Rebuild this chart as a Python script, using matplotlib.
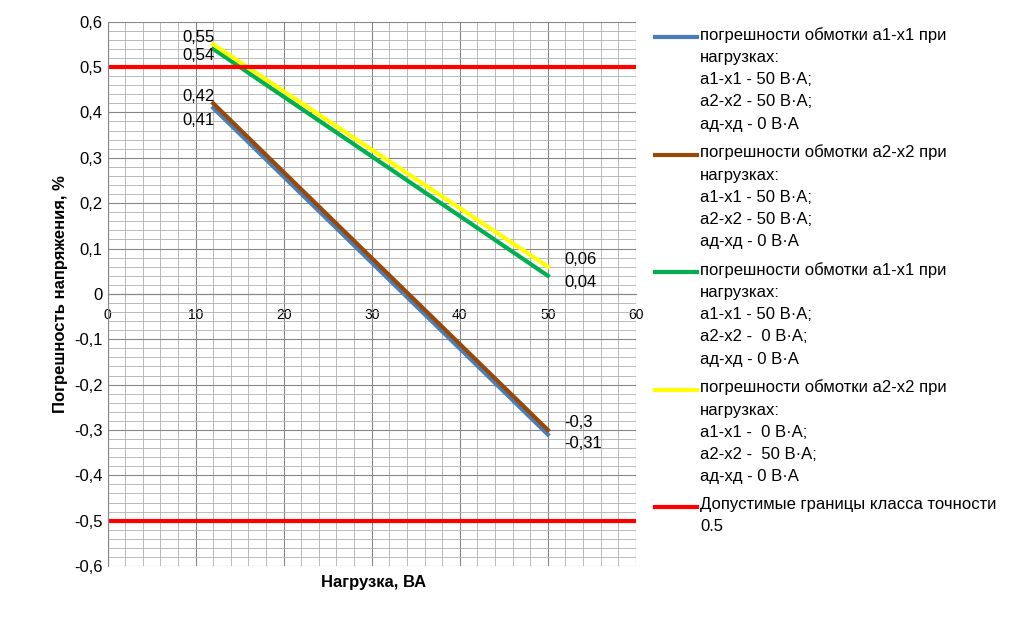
import matplotlib as mpl
mpl.use('Agg')
import matplotlib.pyplot as plt
from matplotlib.lines import Line2D
import numpy as np

# data
load = [12, 50]
err_a1_1 = [0.41, -0.31]
err_a2_1 = [0.42, -0.30]
err_a1_2 = [0.54, 0.04]
err_a2_2 = [0.55, 0.06]
limit = 0.5

labels = [
    'погрешности обмотки а1-х1 при\nнагрузках:\nа1-х1 - 50 В·А;\nа2-х2 - 50 В·А;\nад-хд - 0 В·А',
    'погрешности обмотки а2-х2 при\nнагрузках:\nа1-х1 - 50 В·А;\nа2-х2 - 50 В·А;\nад-хд - 0 В·А',
    'погрешности обмотки а1-х1 при\nнагрузках:\nа1-х1 - 50 В·А;\nа2-х2 -  0 В·А;\nад-хд - 0 В·А',
    'погрешности обмотки а2-х2 при\nнагрузках:\nа1-х1 -  0 В·А;\nа2-х2 -  50 В·А;\nад-хд - 0 В·А',
    'Допустимые границы класса точности\n0.5',
]
colors = ['#4a7ebb', '#984807', '#00b050', '#ffff00', '#ff0000']

plt.rcParams['font.family'] = ['Liberation Sans', 'DejaVu Sans']
fig = plt.figure(figsize=(10.24, 6.2), dpi=100)
ax = fig.add_axes([0.105, 0.087, 0.516, 0.878])

ax.set_xlim(0, 60)
ax.set_ylim(-0.6, 0.6)
yt = np.arange(-0.6, 0.61, 0.1)
ax.set_xticks(np.arange(0, 61, 10))
ax.set_yticks(yt)
ax.set_yticklabels(['0' if abs(v) < 1e-9 else ('%.1f' % v).replace('.', ',') for v in yt], fontsize=12)
ax.set_xticklabels([str(v) for v in range(0, 61, 10)], fontsize=12)
ax.set_xticks(np.arange(0, 61, 2), minor=True)
ax.set_yticks(np.arange(-0.6, 0.61, 0.02), minor=True)
ax.grid(which='major', color='#868686', lw=0.8)
ax.grid(which='minor', color='#b0b0b0', lw=0.6)
ax.tick_params(which='both', length=0)
ax.tick_params(axis='x', pad=10)
ax.spines['bottom'].set_position(('data', 0))
for s in ax.spines.values():
    s.set_color('#868686')
ax.spines['top'].set_visible(False)
ax.spines['right'].set_visible(False)

ax.plot(load, err_a1_1, color=colors[0], lw=3)
ax.plot(load, err_a2_1, color=colors[1], lw=3, zorder=3)
ax.plot(load, err_a1_2, color=colors[2], lw=3)
ax.plot(load, err_a2_2, color=colors[3], lw=3)
ax.axhline(limit, color=colors[4], lw=3)
ax.axhline(-limit, color=colors[4], lw=3)

def fmt(v):
    return ('%g' % v).replace('.', ',')

kw = dict(textcoords='offset points', fontsize=12)
ax.annotate(fmt(err_a2_2[0]), (load[0], err_a2_2[0]), xytext=(-22, 2), **kw)
ax.annotate(fmt(err_a1_2[0]), (load[0], err_a1_2[0]), xytext=(-22, -8), **kw)
ax.annotate(fmt(err_a2_1[0]), (load[0], err_a2_1[0]), xytext=(-22, 2), **kw)
ax.annotate(fmt(err_a1_1[0]), (load[0], err_a1_1[0]), xytext=(-22, -12), **kw)
ax.annotate(fmt(err_a2_2[1]), (load[1], err_a2_2[1]), xytext=(12, 2), **kw)
ax.annotate(fmt(err_a1_2[1]), (load[1], err_a1_2[1]), xytext=(12, -8), **kw)
ax.annotate(fmt(err_a2_1[1]), (load[1], err_a2_1[1]), xytext=(12, 2), **kw)
ax.annotate(fmt(err_a1_1[1]), (load[1], err_a1_1[1]), xytext=(12, -10), **kw)

ax.set_ylabel('Погрешность напряжения, %', fontsize=12, fontweight='bold')
fig.text(0.365, 0.06, 'Нагрузка, ВА', fontsize=12, fontweight='bold', ha='center', va='center')

# legend drawn by hand: line at first text line, 23.5 px per text line
y = 620 - 37
step = 23.5
for lab, c in zip(labels, colors):
    yf = y / 620
    fig.add_artist(Line2D([655 / 1024, 697 / 1024], [yf, yf], color=c, lw=3))
    fig.text(700 / 1024, yf, lab, fontsize=12, va='top', ha='left', linespacing=1.6,
             transform=fig.transFigure).set_y(yf + 10 / 620)
    y -= step * lab.count('\n') + step

fig.savefig('out.png', dpi=100)
